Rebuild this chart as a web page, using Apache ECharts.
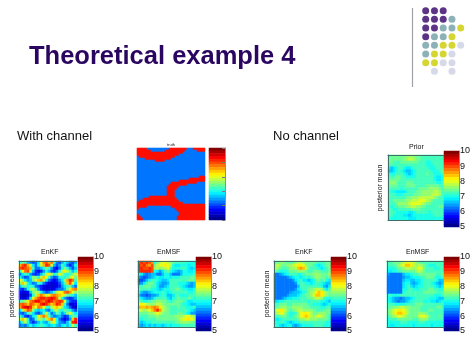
<!DOCTYPE html>
<html>
<head>
<meta charset="utf-8">
<title>Theoretical example 4</title>
<style>
  html, body { margin: 0; padding: 0; background: #fff; }
  /* the slide is a soft low-res scan, a little blur gets the same look */
  #slide { width: 474px; height: 355px; filter: blur(0.45px); }
</style>
<script src="https://cdn.jsdelivr.net/npm/echarts@6/dist/echarts.min.js"></script>
</head>
<body>
<div id="slide"></div>
<script>
// posterior mean grids, values are log-perm x 10 (so 72 = 7.2), first row = top of the panel
const enkfChannel = [
  [70,75,72,65,62,60,62,68,80,88,90,85,88,72,62,60,65,70,66,62,60,65],
  [85,90,92,85,78,68,62,70,78,85,92,90,78,66,60,64,72,68,62,58,62,70],
  [90,92,90,88,85,72,62,62,66,70,75,72,64,58,56,62,70,75,70,65,60,66],
  [72,82,88,90,78,66,58,55,58,64,70,66,60,58,62,70,78,82,78,72,66,70],
  [62,68,72,70,64,60,58,60,66,72,78,82,76,70,72,80,76,72,70,72,75,78],
  [70,64,60,62,68,76,74,70,78,84,80,72,64,60,62,70,72,70,72,78,82,74],
  [80,76,68,64,66,74,80,84,86,78,70,62,58,56,58,64,68,76,86,92,88,72],
  [76,84,80,70,66,62,64,72,70,62,58,55,54,55,56,60,66,72,84,90,80,68],
  [66,72,74,70,72,70,62,60,58,55,54,54,54,54,55,58,64,68,72,74,66,62],
  [60,58,62,70,76,78,72,64,58,55,53,54,55,56,60,62,62,66,74,82,86,88],
  [56,55,54,56,66,74,78,76,70,64,60,62,66,72,78,80,82,88,90,86,80,76],
  [54,53,53,54,60,70,78,84,88,84,78,82,86,88,86,84,82,78,74,72,70,66],
  [55,54,54,58,68,80,86,90,92,92,90,92,94,92,88,78,70,64,60,58,60,64],
  [72,74,76,82,88,90,94,94,90,88,92,95,92,88,90,92,90,80,66,60,58,58],
  [88,90,88,84,90,88,84,86,92,95,92,88,84,86,92,90,84,72,62,54,54,56],
  [86,92,94,96,92,84,80,88,86,80,72,70,78,82,84,80,76,68,66,60,54,53],
  [68,76,84,90,88,76,68,66,68,70,64,62,70,76,78,72,70,74,72,70,64,60],
  [62,60,64,72,74,68,62,60,64,72,78,70,62,66,74,70,64,68,76,80,74,68],
  [72,66,60,58,62,68,72,80,84,88,84,74,66,62,64,66,62,58,60,68,74,72],
  [78,84,80,70,60,62,72,78,76,72,78,84,88,82,70,62,58,56,58,64,84,92],
  [66,72,78,70,62,58,62,66,70,66,64,70,78,80,70,64,62,60,66,74,92,94],
  [62,64,62,66,70,66,68,70,72,70,68,66,68,70,66,64,68,70,66,70,78,72]
];
const enmsfChannel = [
  [90,92,90,92,90,86,70,74,78,80,80,78,76,74,72,72,72,72,70,70,70,70],
  [92,90,92,88,86,90,74,78,80,80,82,80,78,70,68,68,70,70,70,68,70,70],
  [92,92,90,90,92,90,76,78,76,76,78,80,74,70,70,70,72,72,70,68,66,68],
  [92,92,92,92,92,90,70,68,64,68,72,74,70,68,66,64,66,70,70,68,68,70],
  [70,68,64,62,64,66,66,62,62,66,70,70,66,62,62,62,66,70,70,70,70,72],
  [64,62,60,62,64,66,68,70,68,68,70,70,68,70,70,70,72,72,72,72,74,74],
  [60,60,62,66,70,72,72,70,68,66,66,68,72,72,72,72,72,72,72,74,74,72],
  [62,64,68,72,74,74,72,68,66,64,64,66,72,72,72,70,70,70,68,66,64,66],
  [70,72,74,74,74,72,72,68,64,64,66,68,72,72,72,72,70,68,66,64,64,66],
  [74,72,72,72,72,70,70,68,66,68,70,70,72,72,74,74,72,70,70,68,68,70],
  [70,66,64,64,66,68,70,70,70,72,70,68,70,72,72,72,72,72,72,70,70,72],
  [66,62,62,60,62,64,64,66,70,72,70,66,66,68,72,72,70,70,70,72,72,72],
  [70,68,66,64,64,66,70,72,72,72,72,68,66,70,72,74,72,72,72,74,72,70],
  [74,72,70,70,72,74,74,76,76,74,74,72,70,72,74,74,74,72,70,68,68,70],
  [80,82,80,78,76,76,76,78,78,76,74,74,74,74,74,74,72,70,70,68,66,66],
  [86,84,84,86,84,86,88,86,82,78,76,74,72,72,72,74,72,72,70,70,70,72],
  [80,78,76,78,80,84,88,92,86,78,76,74,72,72,72,72,72,72,72,70,68,66],
  [74,74,74,74,76,76,78,80,78,76,74,74,72,72,72,74,74,72,70,68,64,64],
  [72,72,72,72,74,74,74,76,74,74,74,74,74,74,76,76,76,78,80,80,78,76],
  [70,70,72,72,72,72,72,74,74,74,74,74,74,74,74,76,78,80,82,82,80,78],
  [68,66,68,70,70,72,72,72,72,72,72,72,72,72,74,74,76,76,76,76,74,74],
  [66,64,66,68,66,68,66,68,68,66,68,70,68,70,70,70,72,72,72,72,72,72]
];
const enkfNoChannel = [
  [72,74,76,76,74,74,72,74,76,78,78,76,74,74,74,74,72,72,72,72,74,74],
  [76,78,76,74,74,76,76,78,80,82,82,80,76,74,74,72,70,68,70,72,74,74],
  [78,76,74,72,72,74,76,76,78,84,86,84,78,74,72,72,72,70,68,70,72,74],
  [74,72,70,70,70,72,74,74,74,76,76,76,74,72,72,74,74,74,72,72,72,74],
  [62,62,64,66,68,70,72,72,72,70,70,72,74,74,74,76,76,76,74,74,74,76],
  [62,62,62,62,62,64,66,68,70,70,68,70,72,70,72,74,76,76,74,74,72,74],
  [62,62,62,62,62,62,62,64,68,70,72,68,68,66,68,70,74,74,72,74,70,68],
  [62,62,62,62,62,62,62,62,64,70,72,72,70,70,68,70,72,72,70,68,66,66],
  [62,62,62,62,62,62,62,62,62,66,72,72,72,72,72,72,72,72,70,66,64,68],
  [62,62,62,62,62,62,62,62,64,68,70,72,72,74,74,76,78,78,76,72,68,72],
  [62,62,62,62,62,62,64,65,66,66,68,70,72,74,76,78,82,84,82,78,76,74],
  [62,62,62,62,62,64,66,66,66,68,70,72,74,74,76,80,84,84,82,78,76,74],
  [62,62,62,64,66,68,68,70,70,70,72,72,72,74,74,76,78,78,76,72,70,70],
  [66,68,70,70,72,72,72,72,72,72,72,72,72,70,72,72,72,72,70,70,68,66],
  [72,72,74,74,74,72,72,74,74,74,74,74,74,72,72,70,70,70,68,66,68,70],
  [72,74,76,76,76,74,74,76,76,76,76,74,74,74,72,72,72,72,70,70,72,72],
  [76,80,82,82,78,74,72,74,76,78,78,76,76,76,76,74,72,72,72,74,74,74],
  [74,78,80,80,76,72,70,70,72,76,80,82,82,80,78,74,74,76,76,76,74,74],
  [72,72,74,74,74,72,70,72,74,76,80,82,84,82,78,76,78,80,78,76,74,72],
  [68,68,70,72,72,72,72,72,72,74,76,76,78,78,76,76,76,74,74,74,74,72],
  [70,70,72,72,70,68,66,68,70,70,72,72,72,72,72,72,72,72,72,72,70,70],
  [72,70,68,66,68,70,70,66,64,66,68,70,70,70,70,72,72,72,72,70,70,70]
];
const enmsfNoChannel = [
  [72,72,74,74,74,76,78,80,80,80,78,76,74,72,72,72,72,72,72,72,72,72],
  [72,72,72,74,76,78,80,84,84,82,78,76,78,76,74,72,70,70,70,72,72,72],
  [70,70,70,72,74,74,76,78,78,78,76,78,80,78,74,72,72,72,70,70,72,72],
  [68,68,70,70,72,72,74,74,74,74,74,76,78,76,74,72,72,72,72,72,72,72],
  [64,62,62,62,62,62,66,68,68,70,72,72,74,74,74,74,74,74,74,72,72,74],
  [62,62,62,62,62,62,64,66,66,68,70,70,70,72,72,74,74,74,72,70,70,72],
  [62,62,62,62,62,62,66,68,68,66,66,68,68,70,72,72,72,72,72,70,66,66],
  [62,62,62,62,62,62,68,70,70,66,64,66,68,70,72,72,72,70,68,66,64,66],
  [62,62,62,62,62,62,68,70,72,68,66,68,70,70,72,72,72,72,70,68,66,68],
  [62,62,62,62,62,62,70,70,72,72,70,70,70,72,72,72,74,74,72,72,70,70],
  [62,62,62,62,62,62,70,72,72,72,72,72,72,72,74,74,74,74,74,72,72,72],
  [70,72,70,70,70,72,72,72,72,72,72,72,72,72,72,72,72,72,70,70,70,72],
  [70,68,66,64,64,62,64,66,66,68,70,72,72,72,72,72,70,70,70,68,66,66],
  [70,68,66,64,62,64,64,66,68,70,72,72,72,72,70,70,70,68,68,66,68,70],
  [72,72,72,70,70,70,70,72,72,72,72,74,74,74,72,72,72,72,72,72,72,72],
  [72,74,74,76,76,78,78,76,76,74,74,74,74,72,72,72,72,72,72,74,74,72],
  [74,76,78,80,82,82,80,78,76,74,74,74,74,72,72,72,74,74,72,72,72,72],
  [74,76,78,82,84,84,82,78,76,74,74,74,76,76,76,74,72,72,72,72,72,72],
  [72,74,76,78,80,80,78,76,74,74,74,74,78,80,80,78,74,72,72,72,74,72],
  [70,72,72,72,74,74,74,74,74,74,72,72,74,76,76,76,72,72,72,72,72,72],
  [70,70,70,70,70,72,72,72,70,70,70,70,72,72,72,70,70,70,70,70,70,70],
  [70,68,68,70,70,70,70,70,70,70,68,70,70,70,70,70,70,68,70,70,70,70]
];
const priorNoChannel = [
  [72,74,74,74,74,74,74,76,76,76,76,74,74,72,72,72,72,72,72,72,72,72],
  [74,74,74,74,74,74,76,76,78,78,76,74,74,72,72,72,72,72,72,72,72,72],
  [74,74,72,72,72,74,74,74,74,74,74,74,72,72,72,70,70,72,72,72,72,72],
  [72,72,72,72,72,72,72,72,72,72,72,72,72,72,72,70,70,70,72,72,72,72],
  [68,66,68,70,72,72,70,68,68,70,72,72,72,72,72,72,70,70,70,72,72,72],
  [66,66,68,70,72,70,68,66,66,68,70,72,72,72,72,72,72,70,70,70,72,74],
  [70,70,70,72,72,72,70,68,66,68,70,72,72,72,72,74,72,72,70,70,70,72],
  [72,72,72,74,74,72,72,70,70,70,70,72,72,72,72,72,72,72,70,68,68,70],
  [74,74,74,74,74,72,72,72,72,72,72,72,72,72,72,72,72,72,70,68,68,70],
  [74,76,76,74,72,72,72,74,74,74,72,72,72,72,72,72,72,72,72,70,70,72],
  [74,74,74,74,72,72,72,74,74,74,74,72,72,72,72,74,74,74,74,74,72,72],
  [72,72,72,72,72,70,72,72,72,72,72,72,74,74,74,74,76,76,76,76,74,72],
  [72,70,70,68,68,68,68,70,72,72,72,74,74,76,76,76,76,76,78,78,76,72],
  [72,72,72,70,70,70,72,72,72,72,74,74,74,76,76,76,76,78,78,78,76,72],
  [72,72,72,72,72,72,72,74,74,76,76,76,78,78,78,78,78,78,76,74,72,72],
  [72,72,74,74,74,74,74,76,76,78,78,78,80,80,80,78,76,74,72,72,72,72],
  [72,72,72,74,76,76,76,76,78,80,80,80,80,78,76,74,74,72,72,72,72,72],
  [72,70,72,72,74,74,74,76,76,78,78,76,76,74,74,72,72,72,72,72,74,74],
  [72,72,70,70,72,72,72,72,72,74,74,74,74,72,72,72,72,72,72,72,72,72],
  [72,72,72,70,70,70,70,70,68,68,70,72,72,72,72,72,70,72,72,72,72,72],
  [72,72,70,70,70,70,68,68,66,68,70,70,70,70,70,70,70,70,72,72,72,72],
  [70,70,70,70,70,70,70,70,68,68,68,70,70,70,70,70,70,70,70,70,70,70]
];

// truth field is two facies: each row lists its channel (red) column spans, the rest is background
const truthCols = 34;
const truthChannelValue = 93;
const truthBackValue = 62;
const truthSpans = [
  [[0,4],[16,24],[28,33]],
  [[0,6],[14,23],[30,33]],
  [[0,22]],
  [[0,20]],
  [[1,18]],
  [[4,16]],
  [[9,13]],
  [],[],[],[],[],[],[],
  [[31,33]],
  [[26,33]],
  [[21,33]],
  [[17,29]],
  [[16,24]],
  [[15,20]],
  [[15,19]],
  [[15,18]],
  [[15,18]],
  [[15,18]],
  [[6,18]],
  [[3,19]],
  [[1,20]],
  [[0,22]],
  [[0,33]],
  [[0,4],[17,33]],
  [[0,0],[19,33]],
  [[20,33]],
  [[21,33]],
  [[0,0],[21,33]],
  [[0,1],[20,33]],
  [[0,2],[20,33]]
];

const barLevels = [50,52,54,56,58,60,62,64,66,68,70,72,74,76,78,80,82,84,86,88,90,92,94,96,98,100];
const barTicks = [5, 10];
const jetColors = ['#00008f','#0000ff','#0080ff','#00ffff','#80ff80','#ffff00','#ff8000','#ff0000','#800000'];

// template dots, one list per row, '' is an empty spot
const dotColors = { p: '#330066', t: '#6f9fa6', y: '#cccc00', l: '#ccd0e2' };
const dotRows = [
  ['p','p','p','',''],
  ['p','p','p','t',''],
  ['p','p','t','t','y'],
  ['p','t','t','y',''],
  ['t','t','y','y','l'],
  ['t','y','y','l',''],
  ['y','y','l','l',''],
  ['','l','','l','']
];

const truthRows = truthSpans.map(spans => {
  const row = new Array(truthCols).fill(truthBackValue);
  spans.forEach(s => { for (let c = s[0]; c <= s[1]; c++) row[c] = truthChannelValue; });
  return row;
});

const grids = [], xAxes = [], yAxes = [], series = [], titles = [];

function text(str, left, top, size, opts) {
  titles.push({
    text: str, left: left, top: top, padding: 0,
    textStyle: Object.assign({ fontFamily: 'Liberation Sans', fontSize: size, fontWeight: 'normal', color: '#111' }, opts || {})
  });
}

function addHeat(box, rows, border) {
  const g = grids.length;
  const xi = xAxes.length, yi = yAxes.length;
  grids.push({ left: box[0], top: box[1], width: box[2], height: box[3] });
  const cols = rows[0].map((v, i) => i);
  const line = { show: border, lineStyle: { color: '#3d6f68', width: 1 } };
  const base = { type: 'category', gridIndex: g, z: 5, data: cols, axisTick: { show: false }, axisLabel: { show: false }, axisLine: line, splitLine: { show: false } };
  xAxes.push(Object.assign({}, base, { position: 'bottom' }), Object.assign({}, base, { position: 'top' }));
  yAxes.push(Object.assign({}, base, { data: rows.map((v, i) => i), inverse: true, position: 'left' }));
  const data = [];
  rows.forEach((row, r) => row.forEach((v, c) => data.push([c, r, v / 10])));
  series.push({ type: 'heatmap', xAxisIndex: xi, yAxisIndex: yi, data: data, progressive: 0, silent: true });
}

function addBar(box, labelled) {
  const g = grids.length;
  const xi = xAxes.length, yi = yAxes.length;
  grids.push({ left: box[0], top: box[1], width: box[2], height: box[3] });
  const levels = barLevels.slice().reverse();
  xAxes.push({ type: 'category', gridIndex: g, data: [0], axisTick: { show: false }, axisLabel: { show: false }, axisLine: { show: false } });
  yAxes.push({ type: 'category', gridIndex: g, data: levels, inverse: true, show: false });
  yAxes.push({
    type: 'value', gridIndex: g, position: 'right', z: 5,
    min: barTicks[0], max: barTicks[1], interval: 1,
    splitLine: { show: false },
    axisLine: { show: true, lineStyle: { color: '#8a8f96', width: 1 } },
    axisTick: { show: !labelled, inside: true, length: 3, lineStyle: { color: '#777' } },
    axisLabel: { show: labelled, margin: 1, fontFamily: 'Liberation Sans', fontSize: 9, color: '#111' }
  });
  series.push({
    type: 'heatmap', xAxisIndex: xi, yAxisIndex: yi, progressive: 0, silent: true,
    data: levels.map((v, i) => [0, i, v / 10])
  });
}

// left, top, width, height in slide pixels
addHeat([137, 148, 68, 72], truthRows, false);
addBar([209, 148, 16, 72], false);
addHeat([19, 261, 58, 66], enkfChannel, true);
addBar([78, 257, 15, 74], true);
addHeat([138, 261, 58, 66], enmsfChannel, true);
addBar([196, 257, 15, 74], true);
addHeat([274, 261, 57, 66], enkfNoChannel, true);
addBar([331, 257, 15, 74], true);
addHeat([387, 261, 57, 66], enmsfNoChannel, true);
addBar([444, 257, 15, 74], true);
addHeat([388, 155, 56, 65], priorNoChannel, true);
addBar([444, 151, 15, 76], true);

const heatSeries = series.map((s, i) => i);

// template dots on their own little grid
const dotGrid = grids.length;
grids.push({ left: 425.7, top: 10.7, width: 35, height: 60.6 });
xAxes.push({ type: 'value', gridIndex: dotGrid, min: 0, max: 4, show: false });
yAxes.push({ type: 'value', gridIndex: dotGrid, min: 0, max: 7, inverse: true, show: false });
const dotData = [];
dotRows.forEach((row, r) => row.forEach((k, c) => {
  if (k) dotData.push({ value: [c, r], itemStyle: { color: dotColors[k] } });
}));
series.push({
  type: 'scatter', xAxisIndex: xAxes.length - 1, yAxisIndex: yAxes.length - 1,
  symbolSize: 7, clip: false, silent: true, data: dotData
});

text('Theoretical example 4', 29, 44, 25.5, { fontWeight: 'bold', color: '#2a0660' });
text('With channel', 17, 130, 13);
text('No channel', 273, 130, 13);
text('truth', 167, 143, 4);
text('EnKF', 41, 249, 7);
text('EnMSF', 157, 249, 7);
text('EnKF', 295, 249, 7);
text('EnMSF', 406, 249, 7);
text('Prior', 409, 144, 7);

const sideLabels = [[12, 294], [267, 294], [380, 188]];
const option = {
  animation: false,
  backgroundColor: '#fff',
  title: titles,
  grid: grids,
  xAxis: xAxes,
  yAxis: yAxes,
  visualMap: {
    show: false, type: 'continuous', seriesIndex: heatSeries,
    min: 5, max: 10, inRange: { color: jetColors }
  },
  graphic: sideLabels.map(p => ({
    type: 'text', x: p[0], y: p[1], rotation: Math.PI / 2, silent: true,
    style: { text: 'posterior mean', font: '7px "Liberation Sans"', fill: '#111', textAlign: 'center', textVerticalAlign: 'middle' }
  })).concat([{
    type: 'line', silent: true,
    shape: { x1: 412.5, y1: 8, x2: 412.5, y2: 87 },
    style: { stroke: '#a0a0a6', lineWidth: 1.2 }
  }]),
  series: series
};

const myChart = echarts.init(document.getElementById('slide'), null, { renderer: 'canvas' });
myChart.setOption(option);
</script>
</body>
</html>
